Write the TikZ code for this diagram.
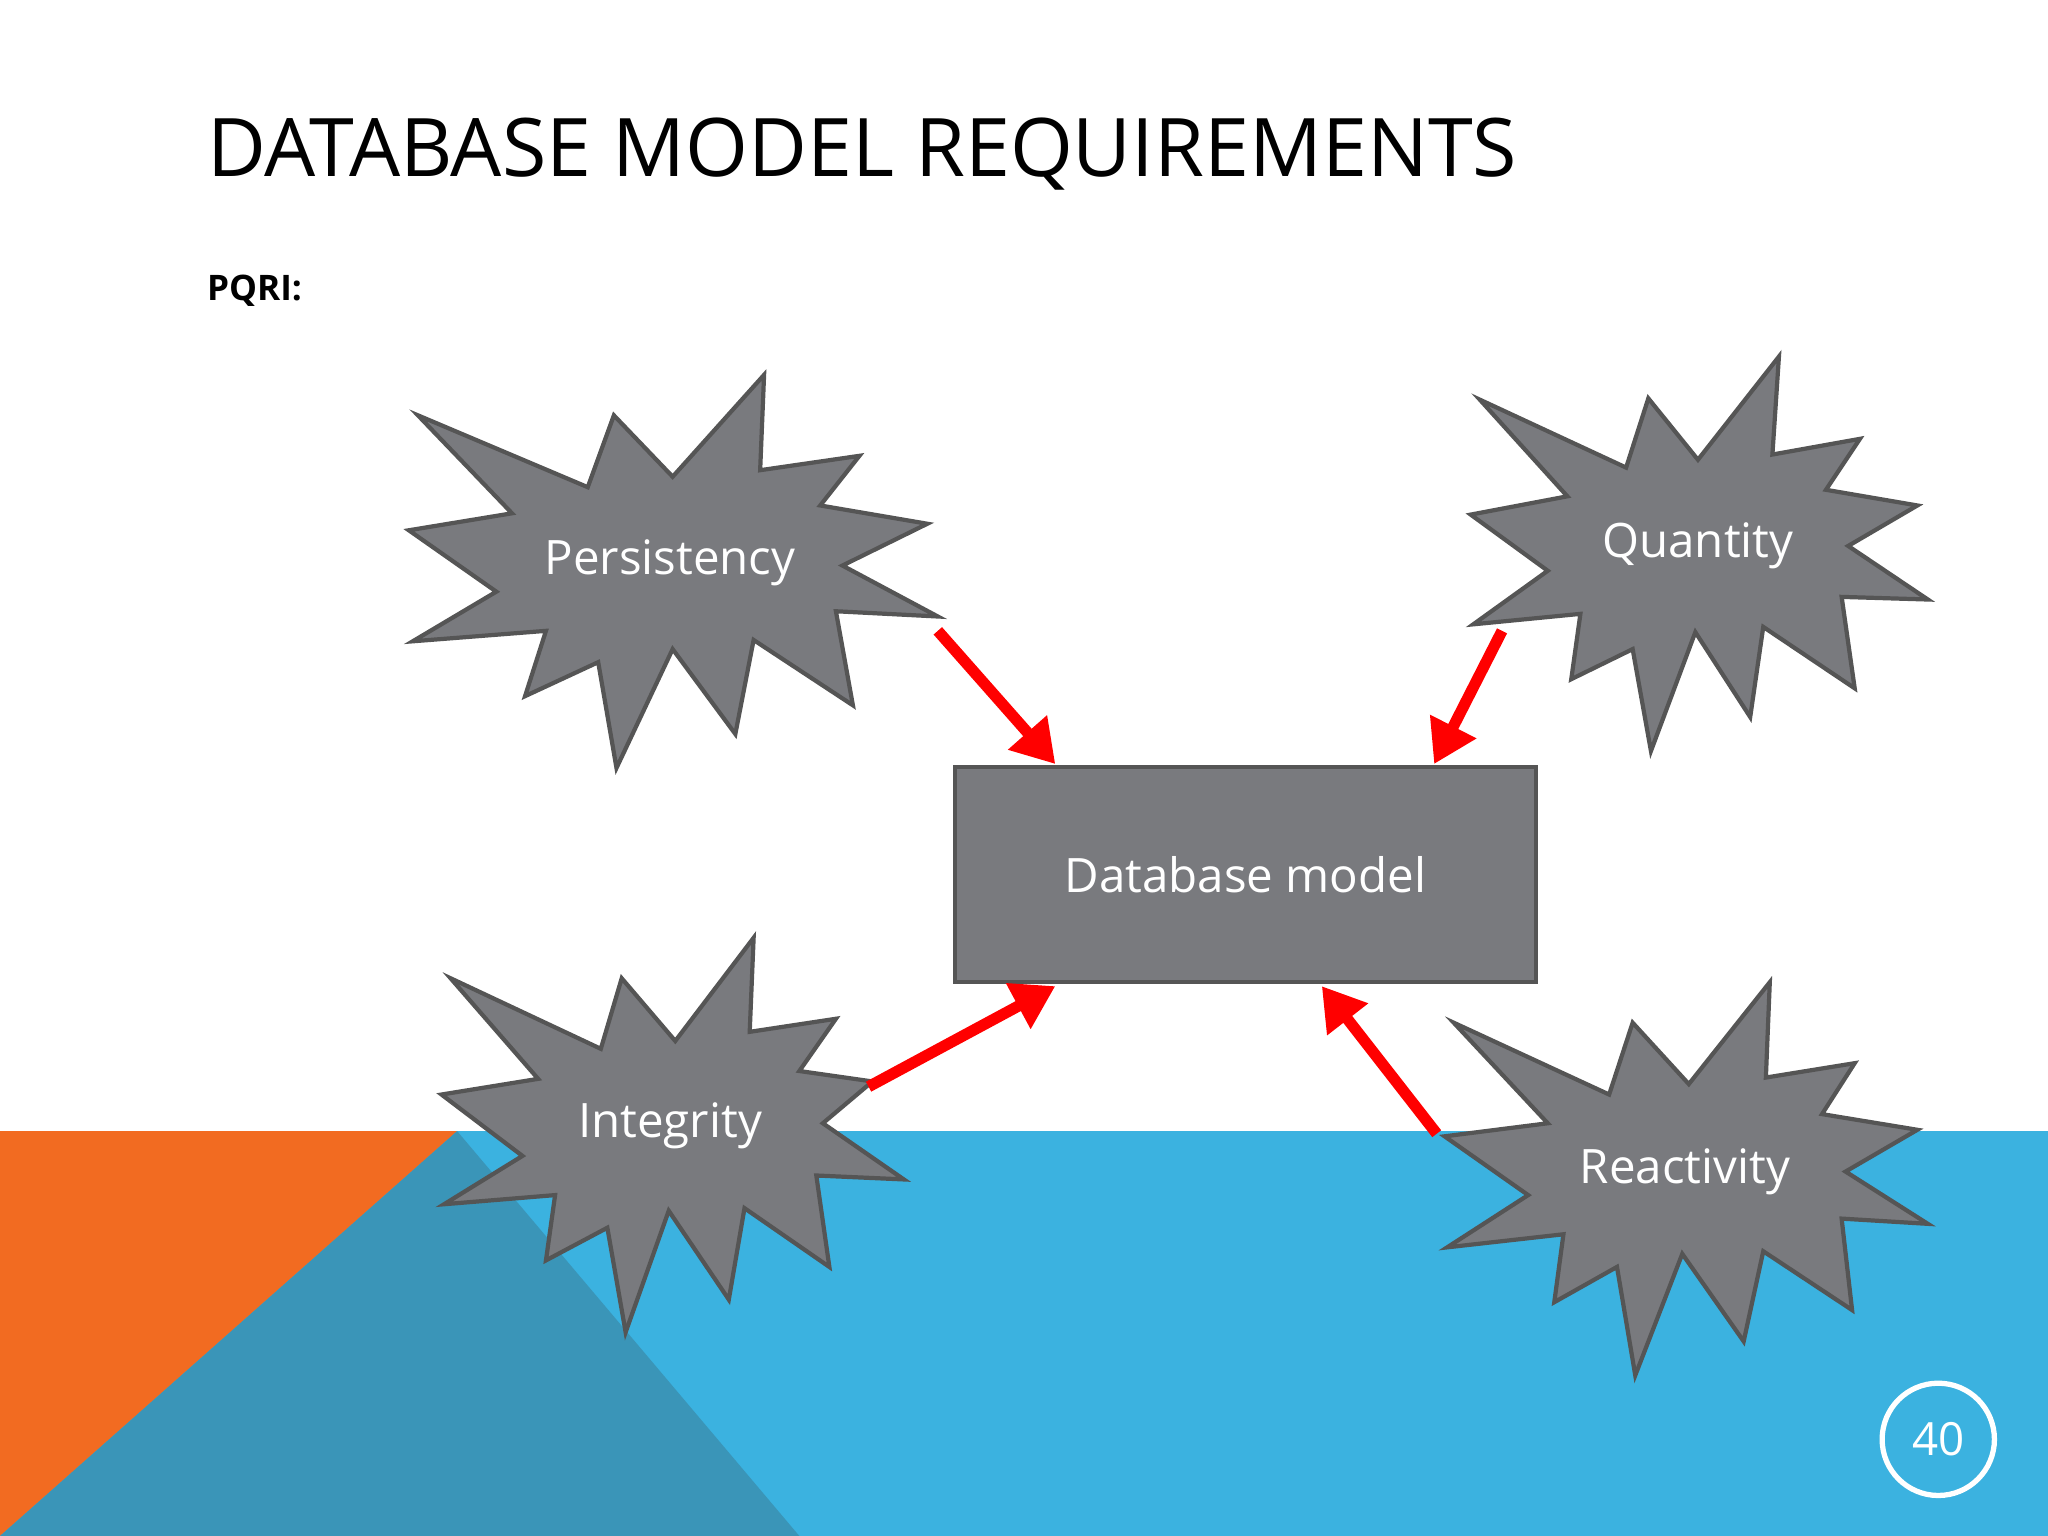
\documentclass[tikz,border=0pt]{standalone}
\usepackage{fontspec}
\setmainfont{Open Sans}
\usetikzlibrary{arrows.meta}
\definecolor{starfill}{HTML}{797A7E}
\definecolor{stardraw}{HTML}{555555}
\definecolor{seablue}{HTML}{3BB2E0}
\definecolor{deepblue}{HTML}{3A95B8}
\definecolor{sunset}{HTML}{F26B21}
\begin{document}
\begin{tikzpicture}[x=0.013061cm,y=-0.013061cm,
  star/.style={fill=starfill,draw=stardraw,line width=1.2pt,line join=miter},
  lab/.style={text=white,font=\fontsize{13.5}{16}\selectfont},
  push/.style={draw=red,line width=3.2pt,-{Triangle[length=12pt,width=14pt]}}]
\useasboundingbox (0,0) rectangle (1568,1176);
% background
\fill[seablue] (0,866) rectangle (1568,1176);
\fill[sunset] (0,866) -- (350,866) -- (0,1176) -- cycle;
\fill[deepblue] (350,866) -- (612,1176) -- (0,1176) -- cycle;
% title
\node[anchor=base west,inner sep=0pt,font=\fontsize{23}{27}\selectfont] (title) at (158,135) {DATABASE MODEL REQUIREMENTS};
\node[anchor=base west,inner sep=0pt,font=\fontsize{10}{12}\selectfont\bfseries] (pqri) at (158,230) {PQRI:};
% stars
\draw[star] (320,318)--(450,373)--(470,318)--(515,365)--(585,287)--(582,360)--(658,349)--(628,387)--(710,401)--(645,433)--(718,472)--(640,468)--(653,540)--(577,490)--(563,562)--(515,497)--(472,588)--(458,507)--(402,533)--(418,483)--(316,491)--(380,453)--(313,406)--(392,393)--cycle;
\draw[star] (1133,306)--(1245,358)--(1262,305)--(1300,352)--(1362,273)--(1357,348)--(1424,336)--(1398,375)--(1468,387)--(1415,418)--(1476,459)--(1410,457)--(1420,527)--(1350,480)--(1340,549)--(1298,484)--(1264,575)--(1250,497)--(1203,520)--(1210,470)--(1128,478)--(1185,437)--(1126,394)--(1200,380)--cycle;
\draw[star] (345,749)--(460,803)--(476,749)--(517,797)--(577,718)--(574,790)--(640,780)--(612,820)--(668,828)--(630,860)--(692,903)--(625,900)--(635,970)--(570,925)--(558,995)--(512,927)--(479,1020)--(465,940)--(418,965)--(425,915)--(340,922)--(400,885)--(338,838)--(412,826)--cycle;
\draw[star] (1113,783)--(1232,838)--(1250,783)--(1293,830)--(1355,752)--(1352,825)--(1420,814)--(1395,853)--(1468,865)--(1413,897)--(1476,937)--(1410,933)--(1418,1003)--(1350,958)--(1335,1027)--(1288,960)--(1252,1053)--(1238,970)--(1190,997)--(1197,945)--(1108,955)--(1170,915)--(1106,870)--(1185,860)--cycle;
\node[lab] (pers) at (513,431) {Persistency};
\node[lab] (quan) at (1300,418) {Quantity};
\node[lab] (inte) at (513,862) {Integrity};
\node[lab] (reac) at (1290,897) {Reactivity};
% box
\node[star,lab,rectangle,minimum width=5.812cm,minimum height=2.155cm,inner sep=0pt] (db) at (953.5,669.5) {Database model};
% arrow ends
\coordinate (p0) at (718,483); \coordinate (p1) at (808,585);
\coordinate (q0) at (1150,483); \coordinate (q1) at (1098,585);
\coordinate (i0) at (665,832); \coordinate (i1) at (808,755);
\coordinate (r0) at (1100,868); \coordinate (r1) at (1012,755);
\draw[push] (p0) -- (p1);
\draw[push] (q0) -- (q1);
\draw[push] (i0) -- (i1);
\draw[push] (r0) -- (r1);
% page number
\node[circle,draw=white,line width=1.5pt,minimum size=1.123cm,inner sep=0pt,text=white,font=\fontsize{13}{15}\selectfont] (pg) at (1484,1102) {40};
\end{tikzpicture}
\end{document}
